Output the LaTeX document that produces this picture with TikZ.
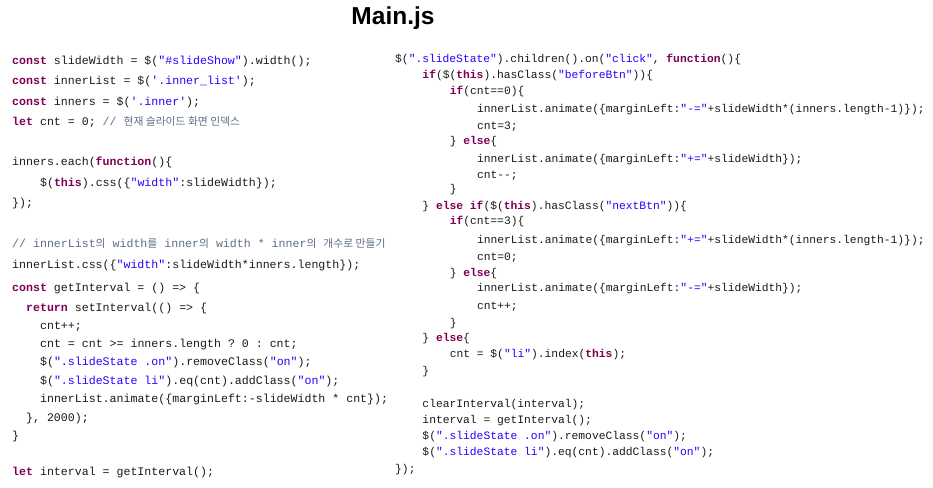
\documentclass[tikz,border=0pt]{standalone}
\usepackage{fontspec}
\setmainfont{Liberation Sans}
\setmonofont{Liberation Mono}
\newfontfamily\kr{Noto Sans CJK KR}
\definecolor{kwc}{HTML}{7F0055}
\definecolor{stc}{HTML}{2A00FF}
\definecolor{cmc}{HTML}{5F6E86}
\definecolor{txc}{HTML}{1A1A1A}
\newcommand\kw[1]{\textcolor{kwc}{\bfseries #1}}
\newcommand\st[1]{\textcolor{stc}{#1}}
\newcommand\cm[1]{\textcolor{cmc}{#1}}
\newcommand\K[1]{{\kr\fontsize{10.8}{11}\selectfont #1}}
\tikzset{
 LL/.style={anchor=base west, inner sep=0, text=txc, font=\ttfamily\fontsize{11.6}{12}\selectfont},
 RL/.style={anchor=base west, inner sep=0, text=txc, font=\ttfamily\fontsize{11.3}{12}\selectfont},
}
\begin{document}
\begin{tikzpicture}[x=1pt,y=-1pt]
\useasboundingbox[fill=white] (0,0) rectangle (933,487);
\node[font=\bfseries\fontsize{24.5}{26}\selectfont] (title) at (393,18) {Main.js};
% left column, char width 7
\def\cw{6.97}
\node[LL] (l1) at (12,64) {\kw{const} slideWidth = \$(\st{"\#slideShow"}).width();};
\node[LL] (l2) at (12,84) {\kw{const} innerList = \$(\st{'.inner\_list'});};
\node[LL] (l3) at (12,105) {\kw{const} inners = \$(\st{'.inner'});};
\node[LL] (l4) at (12,125) {\kw{let} cnt = 0; \cm{// \K{현재 슬라이드 화면 인덱스}}};
\node[LL] (l5) at (12,165) {inners.each(\kw{function}()\{};
\node[LL] (l6) at (12+4*\cw,186) {\$(\kw{this}).css(\{\st{"width"}:slideWidth\});};
\node[LL] (l7) at (12,206) {\});};
\node[LL] (l8) at (12,247) {\cm{// innerList\K{의} width\K{를} inner\K{의} width * inner\K{의} \K{개수로 만들기}}};
\node[LL] (l9) at (12,268) {innerList.css(\{\st{"width"}:slideWidth*inners.length\});};
\node[LL] (l10) at (12,291) {\kw{const} getInterval = () => \{};
\node[LL] (l11) at (12+2*\cw,311) {\kw{return} setInterval(() => \{};
\node[LL] (l12) at (12+4*\cw,329) {cnt++;};
\node[LL] (l13) at (12+4*\cw,347) {cnt = cnt >= inners.length ? 0 : cnt;};
\node[LL] (l14) at (12+4*\cw,365) {\$(\st{".slideState .on"}).removeClass(\st{"on"});};
\node[LL] (l15) at (12+4*\cw,384) {\$(\st{".slideState li"}).eq(cnt).addClass(\st{"on"});};
\node[LL] (l16) at (12+4*\cw,402) {innerList.animate(\{marginLeft:-slideWidth * cnt\});};
\node[LL] (l17) at (12+2*\cw,421) {\}, 2000);};
\node[LL] (l18) at (12,439) {\}};
\node[LL] (l19) at (12,475) {\kw{let} interval = getInterval();};
% right column
\def\rw{6.82}
\def\rx{395}
\node[RL] (r1) at (\rx,63) {\$(\st{".slideState"}).children().on(\st{"click"}, \kw{function}()\{};
\node[RL] (r2) at (\rx+4*\rw,78) {\kw{if}(\$(\kw{this}).hasClass(\st{"beforeBtn"}))\{};
\node[RL] (r3) at (\rx+8*\rw,94) {\kw{if}(cnt==0)\{};
\node[RL] (r4) at (\rx+12*\rw,112) {innerList.animate(\{marginLeft:\st{"-="}+slideWidth*(inners.length-1)\});};
\node[RL] (r5) at (\rx+12*\rw,129) {cnt=3;};
\node[RL] (r6) at (\rx+8*\rw,144) {\} \kw{else}\{};
\node[RL] (r7) at (\rx+12*\rw,162) {innerList.animate(\{marginLeft:\st{"+="}+slideWidth\});};
\node[RL] (r8) at (\rx+12*\rw,178) {cnt-{}-;};
\node[RL] (r9) at (\rx+8*\rw,192) {\}};
\node[RL] (r10) at (\rx+4*\rw,209) {\} \kw{else} \kw{if}(\$(\kw{this}).hasClass(\st{"nextBtn"}))\{};
\node[RL] (r11) at (\rx+8*\rw,224) {\kw{if}(cnt==3)\{};
\node[RL] (r12) at (\rx+12*\rw,243) {innerList.animate(\{marginLeft:\st{"+="}+slideWidth*(inners.length-1)\});};
\node[RL] (r13) at (\rx+12*\rw,260) {cnt=0;};
\node[RL] (r14) at (\rx+8*\rw,276) {\} \kw{else}\{};
\node[RL] (r15) at (\rx+12*\rw,291) {innerList.animate(\{marginLeft:\st{"-="}+slideWidth\});};
\node[RL] (r16) at (\rx+12*\rw,309) {cnt++;};
\node[RL] (r17) at (\rx+8*\rw,326) {\}};
\node[RL] (r18) at (\rx+4*\rw,341) {\} \kw{else}\{};
\node[RL] (r19) at (\rx+8*\rw,357) {cnt = \$(\st{"li"}).index(\kw{this});};
\node[RL] (r20) at (\rx+4*\rw,374) {\}};
\node[RL] (r21) at (\rx+4*\rw,407) {clearInterval(interval);};
\node[RL] (r22) at (\rx+4*\rw,423) {interval = getInterval();};
\node[RL] (r23) at (\rx+4*\rw,439) {\$(\st{".slideState .on"}).removeClass(\st{"on"});};
\node[RL] (r24) at (\rx+4*\rw,455) {\$(\st{".slideState li"}).eq(cnt).addClass(\st{"on"});};
\node[RL] (r25) at (\rx,472) {\});};
\end{tikzpicture}
\end{document}
